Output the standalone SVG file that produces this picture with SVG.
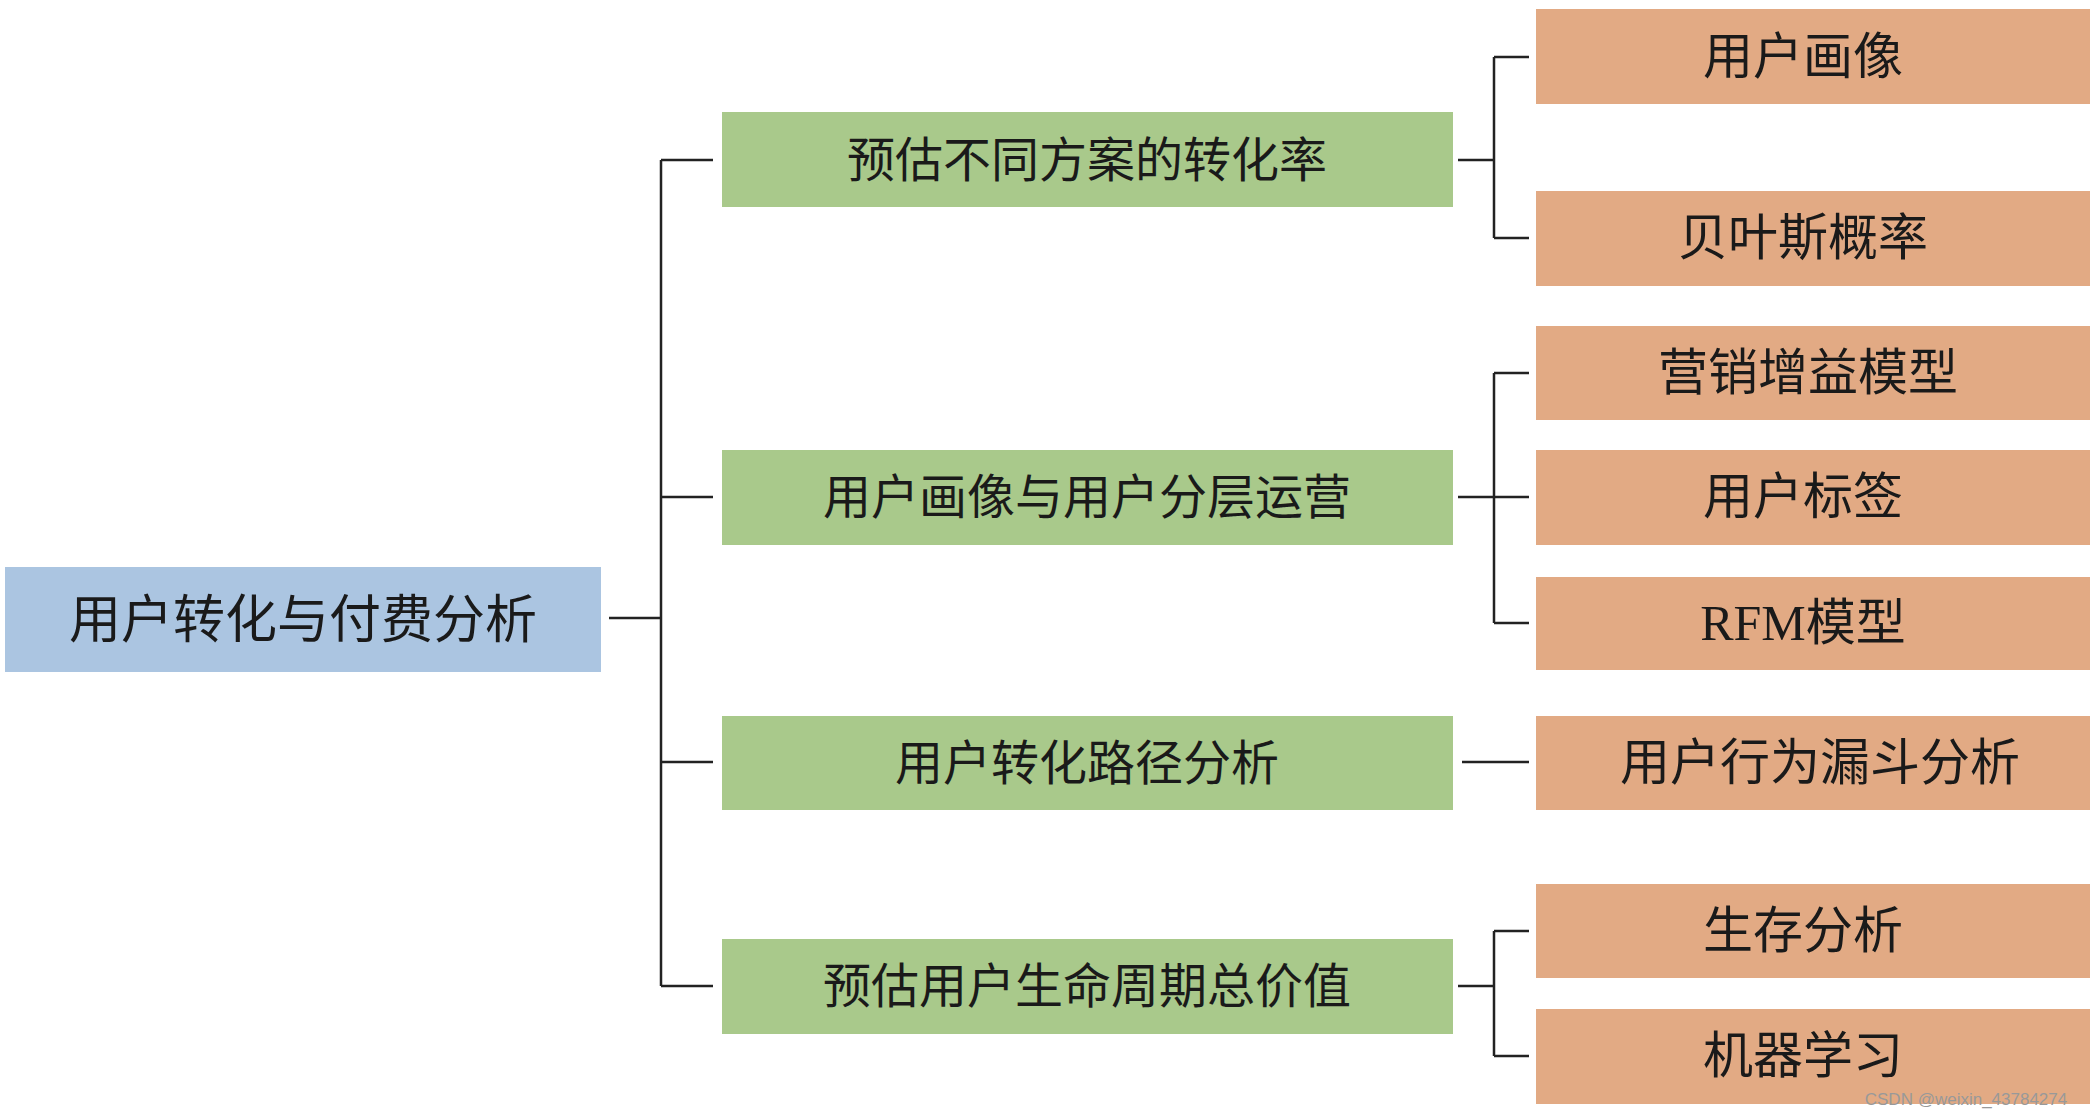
<svg xmlns="http://www.w3.org/2000/svg" width="2098" height="1118" viewBox="0 0 2098 1118">
<style>
text{font-family:"Liberation Serif","Noto Sans CJK SC",serif;fill:#1a1a1a;text-anchor:middle;dominant-baseline:central}
.r{fill:#abc5e1}.g{fill:#a9c98b}.o{fill:#e2aa84}
.t1{font-size:52px}.t2{font-size:48px}.t3{font-size:50px}
#connectors path{fill:none;stroke:#222;stroke-width:2.5}
</style>
<rect width="2098" height="1118" fill="#fff"/>
<g id="connectors">
<path d="M609 618H661M661 160V986M661 160H713M661 497H713M661 762H713M661 986H713"/>
<path d="M1458 160H1494M1494 57V238M1494 57H1529M1494 238H1529"/>
<path d="M1458 497H1529M1494 373V623M1494 373H1529M1494 623H1529"/>
<path d="M1462 762H1529"/>
<path d="M1458 986H1494M1494 931V1056M1494 931H1529M1494 1056H1529"/>
</g>
<g id="root"><rect class="r" x="5" y="567" width="596" height="105"/><text class="t1" x="303" y="620">用户转化与付费分析</text></g>
<g id="g1"><rect class="g" x="722" y="112" width="731" height="95"/><text class="t2" x="1087" y="160">预估不同方案的转化率</text></g>
<g id="g2"><rect class="g" x="722" y="450" width="731" height="95"/><text class="t2" x="1087" y="497">用户画像与用户分层运营</text></g>
<g id="g3"><rect class="g" x="722" y="716" width="731" height="94"/><text class="t2" x="1087" y="763">用户转化路径分析</text></g>
<g id="g4"><rect class="g" x="722" y="939" width="731" height="95"/><text class="t2" x="1087" y="986">预估用户生命周期总价值</text></g>
<g id="o1"><rect class="o" x="1536" y="9" width="554" height="95"/><text class="t3" x="1803" y="57">用户画像</text></g>
<g id="o2"><rect class="o" x="1536" y="191" width="554" height="95"/><text class="t3" x="1803" y="238">贝叶斯概率</text></g>
<g id="o3"><rect class="o" x="1536" y="326" width="554" height="94"/><text class="t3" x="1808" y="373">营销增益模型</text></g>
<g id="o4"><rect class="o" x="1536" y="450" width="554" height="95"/><text class="t3" x="1803" y="497">用户标签</text></g>
<g id="o5"><rect class="o" x="1536" y="577" width="554" height="93"/><text class="t3" x="1803" y="623">RFM模型</text></g>
<g id="o6"><rect class="o" x="1536" y="716" width="554" height="94"/><text class="t3" x="1820" y="763">用户行为漏斗分析</text></g>
<g id="o7"><rect class="o" x="1536" y="884" width="554" height="94"/><text class="t3" x="1803" y="931">生存分析</text></g>
<g id="o8"><rect class="o" x="1536" y="1009" width="554" height="95"/><text class="t3" x="1803" y="1056">机器学习</text></g>
<text x="1966" y="1099" style="font-family:'Liberation Sans',sans-serif;font-size:17px;fill:#999">CSDN @weixin_43784274</text>
</svg>
